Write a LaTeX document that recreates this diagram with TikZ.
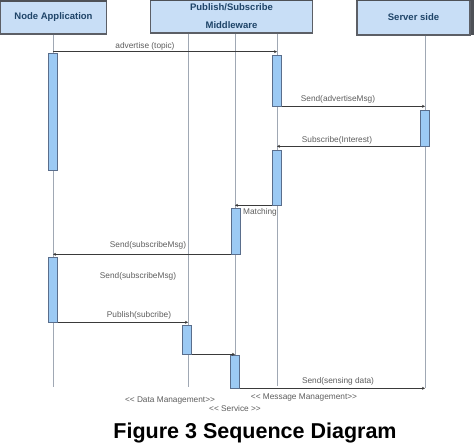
\documentclass[tikz,border=0pt]{standalone}
\usepackage{fontspec}
\setmainfont{Liberation Sans}
\usetikzlibrary{arrows.meta}
\definecolor{hdrfill}{HTML}{C8DEF6}
\definecolor{hdrtext}{HTML}{1E4468}
\definecolor{hdrline}{HTML}{5C5F66}
\definecolor{barfill}{HTML}{9CCAF4}
\definecolor{barline}{HTML}{5A6E8C}
\definecolor{lifecol}{HTML}{A0A8B4}
\definecolor{msgcol}{HTML}{3A3A3A}
\definecolor{lblcol}{HTML}{5E5E5E}
\begin{document}
\begin{tikzpicture}[x=1pt,y=-1pt,
 hdr/.style={draw=hdrline, line width=1.2pt, fill=hdrfill, inner sep=0pt,
   font=\bfseries\fontsize{9.5}{18}\selectfont, text=hdrtext, align=center},
 actbar/.style={draw=barline, line width=0.6pt, fill=barfill, minimum width=9.5pt, inner sep=0pt},
 life/.style={draw=lifecol, line width=0.7pt},
 msg/.style={draw=msgcol, line width=0.8pt, -{Stealth[length=3pt,width=3pt]}},
 lbl/.style={font=\fontsize{8.3}{10}\selectfont, text=lblcol, inner sep=0pt},
 strip/.style={fill=hdrline!85!black},
]
\useasboundingbox (0,0) rectangle (474,445);
\fill[white] (0,0) rectangle (474,445);

% header boxes
\node[hdr, minimum width=106pt, minimum height=34pt] (hA) at (53.5,17) {\raisebox{-1.5pt}{Node Application}};
\node[hdr, minimum width=162pt, minimum height=33pt] (hM) at (231.5,16.5) {Publish/Subscribe\\Middleware};
\node[hdr, minimum width=113pt, minimum height=35pt] (hS) at (413.5,17.5) {\raisebox{-1pt}{Server side}};
\fill[strip] (hA.north west) rectangle ([yshift=-3pt]hA.north east);
\fill[strip] (hM.north west) rectangle ([yshift=-2pt]hM.north east);
\fill[strip] (hS.north west) rectangle ([yshift=-2pt]hS.north east);
\fill[strip] (471,0) rectangle (474,35);

% lifeline ends
\coordinate (endA) at (53,387);
\coordinate (endB) at (188,387);
\coordinate (endC) at (235,388);
\coordinate (endD) at (277,386);
\coordinate (endE) at (425,388);
\draw[life] (hA.south -| endA) -- (endA);
\draw[life] (hM.south -| endB) -- (endB);
\draw[life] (hM.south -| endC) -- (endC);
\draw[life] (hM.south -| endD) -- (endD);
\draw[life] (hS.south -| endE) -- (endE);

% activation bars
\node[actbar, minimum height=117pt] (a1) at (53,111.5) {};
\node[actbar, minimum height=51pt] (d1) at (277,80.5) {};
\node[actbar, minimum height=36pt] (e1) at (425,128) {};
\node[actbar, minimum height=55pt] (d2) at (277,177.5) {};
\node[actbar, minimum height=46pt] (c1) at (236,231) {};
\node[actbar, minimum height=65pt] (a2) at (53,289.5) {};
\node[actbar, minimum height=29pt] (b1) at (187,339.5) {};
\node[actbar, minimum height=33pt] (c2) at (235,371.5) {};

% messages
\draw[msg] ([yshift=1pt]a1.north) -- ([yshift=1pt]a1.north -| endD);
\draw[msg] (d1.south east) -- (d1.south east -| endE);
\draw[msg] (e1.south west) -- (e1.south west -| endD);
\draw[msg] (d2.south west) -- (d2.south west -| endC);
\draw[msg] (c1.south west) -- (c1.south west -| endA);
\draw[msg] (a2.south east) -- (a2.south east -| endB);
\draw[msg] (b1.south east) -- (b1.south east -| endC);
\draw[msg] (c2.south east) -- (c2.south east -| endE);

% message labels
\node[lbl] (l1) at (145,46) {advertise (topic)};
\node[lbl] (l2) at (338,99.5) {Send(advertiseMsg)};
\node[lbl] (l3) at (337,140) {Subscribe(Interest)};
\node[lbl] (l4) at (260,212) {Matching};
\node[lbl] (l5) at (148,245.5) {Send(subscribeMsg)};
\node[lbl] (l6) at (138,276.5) {Send(subscribeMsg)};
\node[lbl] (l7) at (139,315.5) {Publish(subcribe)};
\node[lbl] (l8) at (338,381) {Send(sensing data)};

% stereotypes
\node[lbl] (s1) at (170,400) {{<}{<} Data Management{>}{>}};
\node[lbl] (s2) at (304,397.5) {{<}{<} Message Management{>}{>}};
\node[lbl] (s3) at (235,409) {{<}{<} Service {>}{>}};

% caption
\node[font=\bfseries\fontsize{21.5}{24}\selectfont, anchor=base, inner sep=0pt] (cap) at (255,438.5) {Figure 3 Sequence Diagram};
\end{tikzpicture}
\end{document}
